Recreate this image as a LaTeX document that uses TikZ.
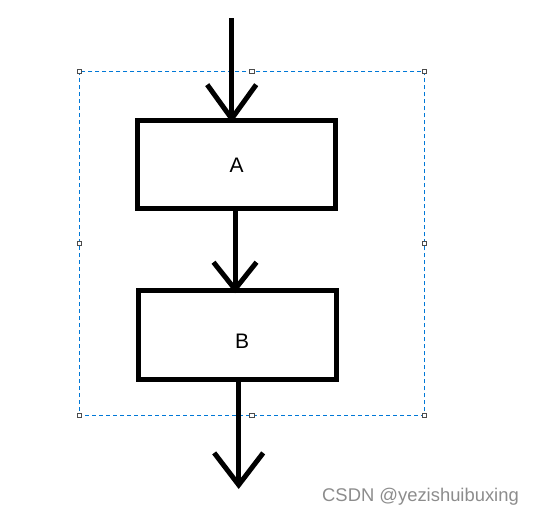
\documentclass[tikz,border=0pt]{standalone}
\usepackage{fontspec}
\setmainfont{Liberation Sans}
\usepackage{xcolor}
\definecolor{selblue}{RGB}{0,120,215}
\usetikzlibrary{positioning,arrows.meta}

\begin{document}
\begin{tikzpicture}[x=1pt, y=-1pt,
		block/.style={draw, line width=5pt, minimum width=198pt, minimum height=88.5pt, inner sep=0pt},
		blocktext/.style={font=\fontsize{21}{25}\selectfont, inner sep=0pt},
		flow/.style n args={2}{line width=5pt, shorten >=-5pt, -{Straight Barb[length=#1, width=#2]}},
		select/.style={draw=selblue, line width=1pt, dash pattern=on 4pt off 3pt},
		handle/.style={draw=black!70, fill=white, line width=0.8pt, minimum size=4.5pt, inner sep=0pt},
		watermark/.style={text=black!45, font=\fontsize{18.4}{22}\selectfont, inner sep=0pt}]
	\useasboundingbox (0,0) rectangle (534,514);
	% selection frame
	\draw[select] (79.3,71.3) rectangle (424.3,415.3);
	\foreach \hx/\hy [count=\i] in {79.3/71.3, 251.8/71.3, 424.3/71.3, 79.3/243.3, 424.3/243.3, 79.3/415.3, 251.8/415.3, 424.3/415.3}
		\node[handle] (h\i) at (\hx,\hy) {};
	% blocks
	\node[block, label={[blocktext, yshift=-1pt]center:A}] (A) at (236.7,164.7) {};
	\node[block, label={[blocktext, xshift=5pt, yshift=-6.5pt]center:B}] (B) at (237,335) {};
	\coordinate (in) at (231.7,18);
	\coordinate (out) at (238.7,484);
	\draw[flow={34pt}{49pt}] (in) -- (in |- A.north);
	\draw[flow={27pt}{43pt}] ([xshift=-1.7pt]A.south) -- ([xshift=-2pt]B.north);
	\draw[flow={32pt}{49pt}] ([xshift=1.7pt]B.south) -- (out);
	\node[watermark, anchor=base west] (mark) at (322,501.7) {CSDN @yezishuibuxing};
\end{tikzpicture}
\end{document}
